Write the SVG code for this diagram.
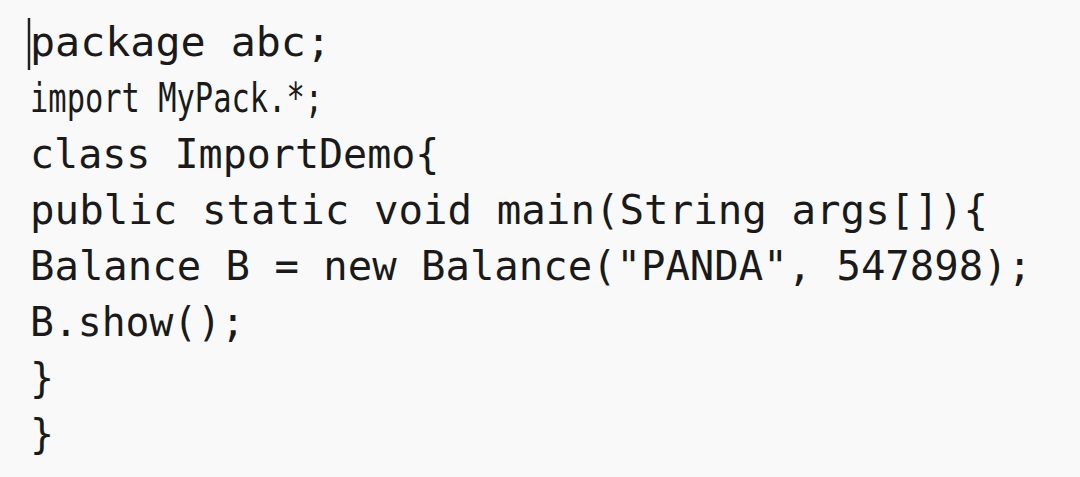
<svg xmlns="http://www.w3.org/2000/svg" width="1080" height="477" viewBox="0 0 1080 477">
<style>text{font-family:"DejaVu Sans Mono","Liberation Mono",monospace;font-size:40px;fill:#1a1a1a}</style>
<rect width="1080" height="477" fill="#f9f9f9"/>
<line x1="29" y1="18" x2="29" y2="70" stroke="#222" stroke-width="2.5"/>
<text x="30" y="56" textLength="301" lengthAdjust="spacingAndGlyphs">package abc;</text>
<text x="30" y="112" textLength="293" lengthAdjust="spacingAndGlyphs">import MyPack.*;</text>
<text x="30" y="168">class ImportDemo{</text>
<text x="30" y="224" textLength="958" lengthAdjust="spacingAndGlyphs">public static void main(String args[]){</text>
<text x="30" y="280" textLength="1002" lengthAdjust="spacingAndGlyphs">Balance B = new Balance("PANDA", 547898);</text>
<text x="30" y="336" textLength="215" lengthAdjust="spacingAndGlyphs">B.show();</text>
<text x="30" y="392">}</text>
<text x="30" y="448">}</text>
</svg>
